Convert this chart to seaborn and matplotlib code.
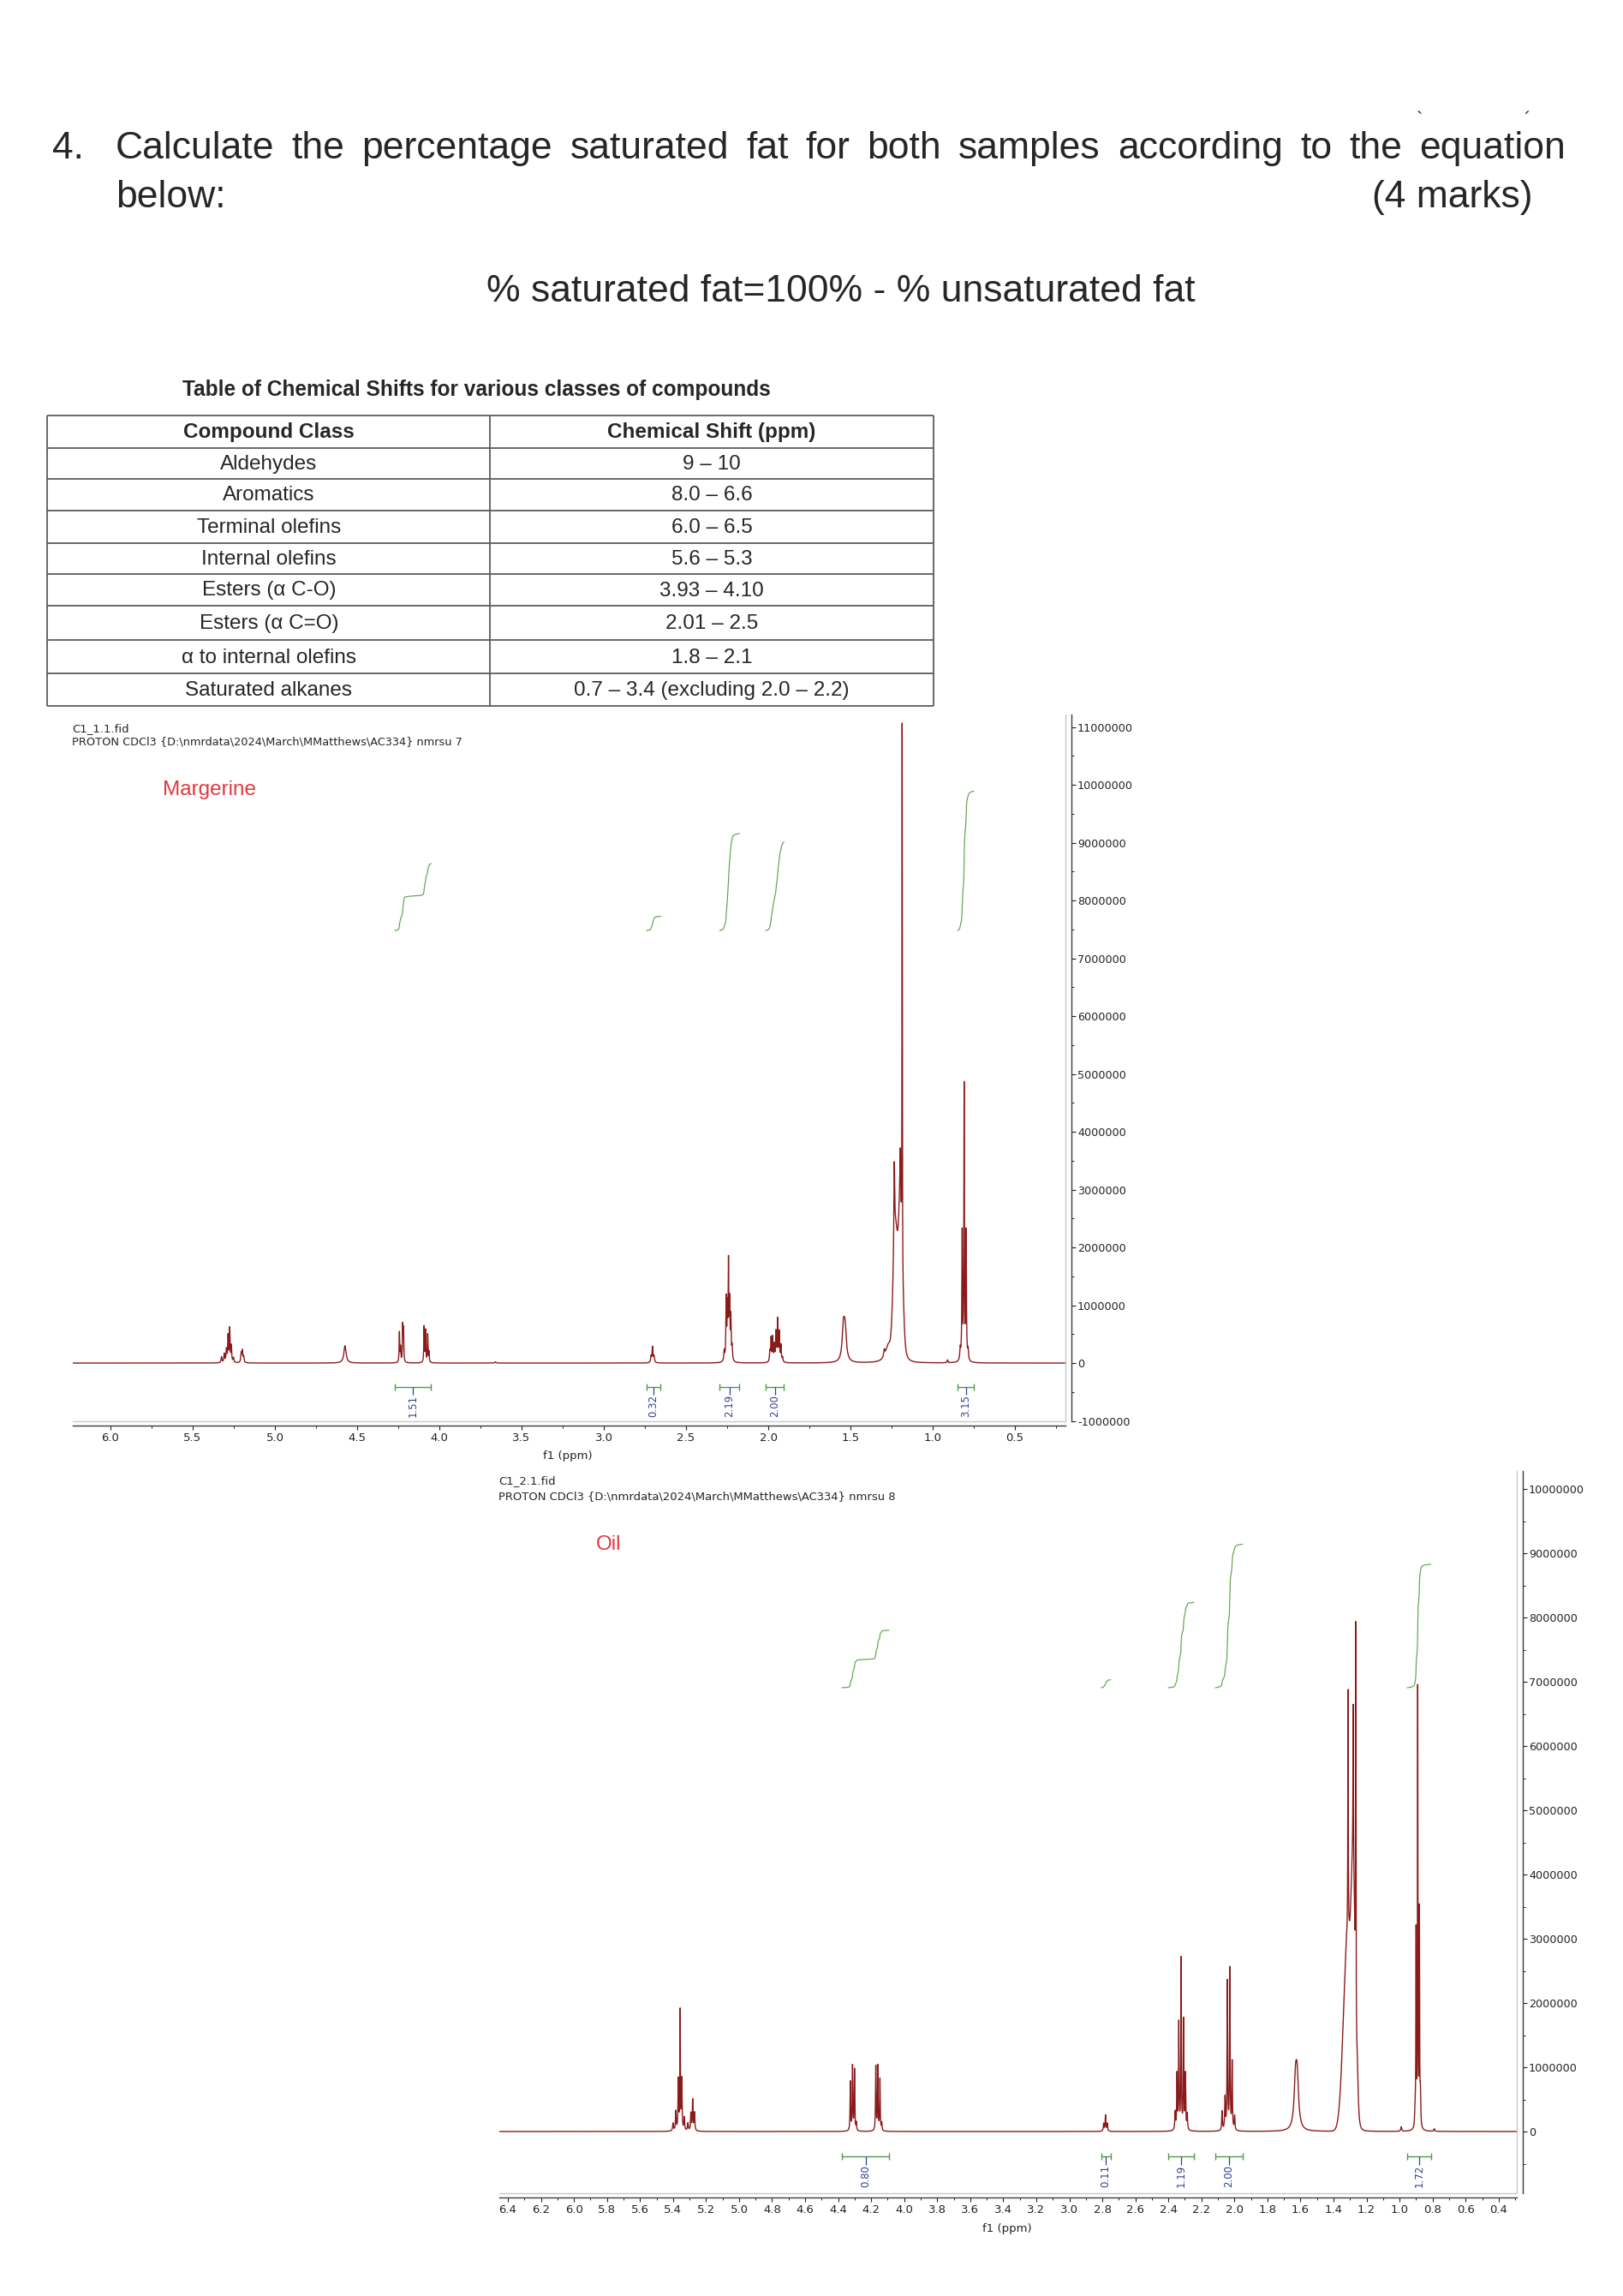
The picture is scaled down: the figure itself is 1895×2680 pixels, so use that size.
import numpy as np
import matplotlib
matplotlib.use("Agg")
import matplotlib.pyplot as plt
import seaborn as sns
from matplotlib.ticker import MultipleLocator, FuncFormatter

# ---------------- page text ----------------
question_words = ["Calculate", "the", "percentage", "saturated", "fat", "for", "both",
                  "samples", "according", "to", "the", "equation"]
equation_text = "% saturated fat=100% - % unsaturated fat"
table_title = "Table of Chemical Shifts for various classes of compounds"
table_header = ["Compound Class", "Chemical Shift (ppm)"]
compound_classes = ["Aldehydes", "Aromatics", "Terminal olefins", "Internal olefins",
                    "Esters (\u03b1 C-O)", "Esters (\u03b1 C=O)", "\u03b1 to internal olefins",
                    "Saturated alkanes"]
shift_ranges = ["9 \u2013 10", "8.0 \u2013 6.6", "6.0 \u2013 6.5", "5.6 \u2013 5.3",
                "3.93 \u2013 4.10", "2.01 \u2013 2.5", "1.8 \u2013 2.1",
                "0.7 \u2013 3.4 (excluding 2.0 \u2013 2.2)"]

# ---------------- margarine spectrum (heights in 1e6) ----------------
marg_line_ppm = [5.325, 5.308, 5.295, 5.285, 5.275, 5.265, 5.252, 5.205, 5.198, 5.190,
                 4.574, 4.243, 4.236, 4.223, 4.218, 4.093, 4.084, 4.071, 4.063, 3.660,
                 2.713, 2.704, 2.695, 2.268, 2.256, 2.249, 2.242, 2.235, 2.228, 2.220,
                 1.990, 1.983, 1.973, 1.963, 1.953, 1.943, 1.933, 1.923, 1.913,
                 1.543, 1.533, 1.295, 1.270, 1.234, 1.197, 1.186, 1.178,
                 0.910, 0.833, 0.821, 0.809, 0.797, 0.785]
marg_line_h = [0.10, 0.15, 0.22, 0.45, 0.58, 0.28, 0.08, 0.16, 0.20, 0.10,
               0.30, 0.52, 0.25, 0.62, 0.55, 0.62, 0.55, 0.48, 0.18, 0.02,
               0.11, 0.27, 0.11, 0.18, 1.05, 0.85, 1.65, 0.95, 0.72, 0.25,
               0.18, 0.40, 0.42, 0.28, 0.50, 0.72, 0.50, 0.28, 0.08,
               0.55, 0.50, 0.12, 0.30, 1.50, 1.00, 9.50, 0.60,
               0.05, 0.20, 2.20, 4.72, 2.20, 0.18]
marg_line_w = [0.003, 0.003, 0.003, 0.0025, 0.0025, 0.0025, 0.003, 0.003, 0.003, 0.003,
               0.008, 0.002, 0.002, 0.002, 0.002, 0.002, 0.002, 0.002, 0.002, 0.004,
               0.003, 0.003, 0.003, 0.003, 0.0022, 0.0022, 0.0022, 0.0022, 0.0022, 0.003,
               0.003, 0.0025, 0.0025, 0.0025, 0.0025, 0.0025, 0.0025, 0.0025, 0.003,
               0.009, 0.009, 0.004, 0.020, 0.003, 0.003, 0.0012, 0.010,
               0.003, 0.003, 0.0022, 0.0018, 0.0022, 0.003]
marg_hump_ppm = [1.226, 1.198]
marg_hump_h = [2.2, 2.2]
marg_hump_s = [0.014, 0.010]
marg_int_start = [4.27, 2.74, 2.295, 2.016, 0.849]
marg_int_end = [4.05, 2.654, 2.175, 1.904, 0.750]
marg_int_value = [1.51, 0.32, 2.19, 2.00, 3.15]

# ---------------- oil spectrum (heights in 1e6) ----------------
oil_line_ppm = [5.400, 5.383, 5.368, 5.357, 5.347, 5.332, 5.310, 5.292, 5.281, 5.270,
                4.326, 4.313, 4.301, 4.290, 4.172, 4.160, 4.147, 4.136,
                2.792, 2.781, 2.770, 2.359, 2.348, 2.337, 2.323, 2.308, 2.297, 2.286,
                2.075, 2.057, 2.043, 2.028, 2.014, 1.999, 1.630, 1.620,
                1.312, 1.281, 1.265, 1.255,
                0.990, 0.906, 0.900, 0.890, 0.880, 0.874, 0.790]
oil_line_h = [0.12, 0.30, 0.78, 1.85, 0.78, 0.20, 0.12, 0.27, 0.48, 0.28,
              0.76, 1.00, 0.95, 0.12, 1.00, 1.00, 0.80, 0.12,
              0.12, 0.25, 0.12, 0.28, 0.85, 1.65, 2.65, 1.70, 0.85, 0.25,
              0.30, 0.50, 2.30, 2.50, 1.05, 0.22, 0.70, 0.70,
              3.80, 2.40, 6.00, 0.50,
              0.07, 0.30, 3.00, 6.80, 3.30, 0.50, 0.04]
oil_line_w = [0.003, 0.0025, 0.0022, 0.0018, 0.0022, 0.0025, 0.003, 0.0025, 0.0025, 0.0025,
              0.002, 0.002, 0.002, 0.002, 0.002, 0.002, 0.002, 0.002,
              0.0025, 0.0025, 0.0025, 0.0025, 0.002, 0.002, 0.0018, 0.002, 0.002, 0.0025,
              0.0025, 0.0025, 0.002, 0.002, 0.002, 0.0025, 0.010, 0.010,
              0.0015, 0.0015, 0.0012, 0.006,
              0.003, 0.0025, 0.0015, 0.0015, 0.0015, 0.0025, 0.003]
oil_hump_ppm = [1.315, 1.280]
oil_hump_h = [3.0, 3.0]
oil_hump_s = [0.025, 0.012]
oil_int_start = [4.377, 2.807, 2.401, 2.116, 0.954]
oil_int_end = [4.092, 2.750, 2.245, 1.950, 0.810]
oil_int_value = [0.80, 0.11, 1.19, 2.00, 1.72]

W, H = 1895, 2680
SPEC_RED = "#8b1a1a"
INT_GREEN = "#5ea34e"
BRACKET_GREEN = "#4e9a4e"
LABEL_BLUE = "#34408f"
PAGE_FONT = "Liberation Sans"

sns.set_theme(style="ticks")
plt.rcParams["font.family"] = ["DejaVu Sans"]

fig = plt.figure(figsize=(W / 100, H / 100), dpi=100)
page = fig.add_axes([0, 0, 1, 1])
page.set_xlim(0, W)
page.set_ylim(H, 0)
page.axis("off")
renderer = fig.canvas.get_renderer()


def fit_width(t, width):
    w = t.get_window_extent(renderer).width
    t.set_fontsize(t.get_fontsize() * width / w)


# question line, justified
page.text(61, 185, "4.", fontsize=32, family=PAGE_FONT, va="baseline")
word_texts = [page.text(0, 185, w, fontsize=32, family=PAGE_FONT, va="baseline")
              for w in question_words]
widths = [t.get_window_extent(renderer).width for t in word_texts]
gap = (1828 - 135 - sum(widths)) / (len(question_words) - 1)
x = 135
for t, w in zip(word_texts, widths):
    t.set_x(x)
    x += w + gap
page.text(135, 242, "below:", fontsize=32, family=PAGE_FONT, va="baseline")
page.text(1790, 242, "(4 marks)", fontsize=32, family=PAGE_FONT, va="baseline", ha="right")
page.text(1658, 146, "`", fontsize=16, family=PAGE_FONT, ha="center", color="#333333")
page.text(1783, 146, "\u00b4", fontsize=16, family=PAGE_FONT, ha="center", color="#333333")

eq = page.text(982, 352, equation_text, fontsize=32, family=PAGE_FONT, va="baseline", ha="center")
fit_width(eq, 829)

# table
tt = page.text(556, 455, table_title, fontsize=17.5, family=PAGE_FONT, weight="bold",
               ha="center", va="center")
fit_width(tt, 688)
row_lines = [485, 523, 559, 596, 634, 670, 707, 747, 786, 824]
page.hlines(row_lines, 55, 1090, color="#5c5c5c", lw=1.3)
page.vlines([55, 572, 1090], 485, 824, color="#5c5c5c", lw=1.3)
col_x = [314, 831]
for j, s in enumerate(table_header):
    page.text(col_x[j], (row_lines[0] + row_lines[1]) / 2 + 1, s, fontsize=17.5,
              family=PAGE_FONT, weight="bold", ha="center", va="center")
for i, (c, s) in enumerate(zip(compound_classes, shift_ranges)):
    yc = (row_lines[i + 1] + row_lines[i + 2]) / 2 + 1
    page.text(col_x[0], yc, c, fontsize=17.5, family=PAGE_FONT, ha="center", va="center")
    page.text(col_x[1], yc, s, fontsize=17.5, family=PAGE_FONT, ha="center", va="center")


def build_spectrum(grid, lp, lh, lw, hp, hh, hs):
    y = np.zeros_like(grid)
    for p, h, w in zip(lp, lh, lw):
        y += h * w ** 2 / ((grid - p) ** 2 + w ** 2)
    for p, h, s in zip(hp, hh, hs):
        y += h * np.exp(-0.5 * ((grid - p) / s) ** 2)
    return y * 1e6


def draw_spectrum(rect, xlim, ylim, major, minor, lines, humps, regions,
                  int_base, int_scale, bracket_y, cap, label_top):
    l, t, r, b = rect
    ax = fig.add_axes([l / W, 1 - b / H, (r - l) / W, (b - t) / H])
    ax.patch.set_alpha(0)
    grid = np.arange(xlim[0], xlim[1], -0.0002)
    grid = np.sort(np.concatenate([grid, lines[0]]))[::-1]
    spec = build_spectrum(grid, *lines, *humps)
    sns.lineplot(x=grid, y=spec, ax=ax, color=SPEC_RED, linewidth=1.0,
                 estimator=None, sort=False)

    starts, ends, values = regions
    for a, e, v in zip(starts, ends, values):
        m = (grid <= a) & (grid >= e)
        cum = np.cumsum(spec[m])
        frac = cum / cum[-1]
        ax.plot(grid[m], int_base + frac * v * int_scale, color=INT_GREEN, lw=0.85)
        ax.hlines(bracket_y, a, e, color=BRACKET_GREEN, lw=1.0)
        ax.vlines([a, e], bracket_y - cap, bracket_y + cap, color=BRACKET_GREEN, lw=1.0)
        c = (a + e) / 2
        ax.vlines(c, label_top, bracket_y, color=LABEL_BLUE, lw=0.9)
        ax.text(c, label_top, f"{v:.2f}", rotation=90, ha="center", va="top",
                fontsize=8.5, color=LABEL_BLUE)

    ax.set_xlim(*xlim)
    ax.set_ylim(*ylim)
    ax.set_xlabel("")
    ax.set_ylabel("")
    ax.spines["left"].set_visible(False)
    ax.spines["top"].set_visible(False)
    ax.spines["right"].set_position(("outward", 5))
    ax.spines["bottom"].set_position(("outward", 3.5))
    for s in ("right", "bottom"):
        ax.spines[s].set_color("#3c3c3c")
        ax.spines[s].set_linewidth(1.0)
    ax.plot([0, 1, 1], [0, 0, 1], transform=ax.transAxes, color="#c8c8c8", lw=1.0,
            clip_on=False)
    ax.yaxis.tick_right()
    ax.xaxis.set_major_locator(MultipleLocator(major))
    ax.xaxis.set_minor_locator(MultipleLocator(minor))
    ax.xaxis.set_major_formatter(FuncFormatter(lambda v, p: f"{v:.1f}"))
    ax.yaxis.set_major_locator(MultipleLocator(1e6))
    ax.yaxis.set_minor_locator(MultipleLocator(5e5))
    ax.yaxis.set_major_formatter(FuncFormatter(lambda v, p: f"{int(round(v))}"))
    ax.tick_params(axis="x", which="major", length=3.6, width=0.8, pad=2,
                   labelsize=9.5, colors="#222222")
    ax.tick_params(axis="x", which="minor", length=2.2, width=0.7, colors="#222222")
    ax.tick_params(axis="y", which="major", length=3.6, width=0.8, pad=1.5,
                   labelsize=9.2, colors="#222222")
    ax.tick_params(axis="y", which="minor", length=2.2, width=0.7, colors="#222222")
    return ax


px1 = 1 / 67.5
draw_spectrum((85, 834, 1244, 1659), (6.229, 0.193), (-1.007e6, 11.215e6), 0.5, 0.25,
              (marg_line_ppm, marg_line_h, marg_line_w),
              (marg_hump_ppm, marg_hump_h, marg_hump_s),
              (marg_int_start, marg_int_end, marg_int_value),
              7.48e6, 0.765e6, -28 * px1 * 1e6, 4 * px1 * 1e6, -37 * px1 * 1e6)

px2 = 1 / 75
draw_spectrum((583, 1717, 1771, 2560), (6.452, 0.290), (-0.96e6, 10.28e6), 0.2, 0.1,
              (oil_line_ppm, oil_line_h, oil_line_w),
              (oil_hump_ppm, oil_hump_h, oil_hump_s),
              (oil_int_start, oil_int_end, oil_int_value),
              6.907e6, 1.117e6, -29 * px2 * 1e6, 4 * px2 * 1e6, -39 * px2 * 1e6)

# spectrum headers
page.text(84, 851, "C1_1.1.fid", fontsize=9.5, va="center")
p1 = page.text(84, 866, r"PROTON CDCl3 {D:\nmrdata\2024\March\MMatthews\AC334} nmrsu 7",
               fontsize=9, va="center")
fit_width(p1, 457)
page.text(190, 922, "Margerine", fontsize=17.5, family=PAGE_FONT, color="#e0393e", va="center")
page.text(663, 1699, "f1 (ppm)", fontsize=9.5, ha="center", va="center", color="#222222")

page.text(582, 1729, "C1_2.1.fid", fontsize=9.5, va="center")
p2 = page.text(582, 1747, r"PROTON CDCl3 {D:\nmrdata\2024\March\MMatthews\AC334} nmrsu 8",
               fontsize=9, va="center")
fit_width(p2, 465)
page.text(696, 1803, "Oil", fontsize=17.5, family=PAGE_FONT, color="#e0393e", va="center")
page.text(1176, 2602, "f1 (ppm)", fontsize=9.5, ha="center", va="center", color="#222222")

fig.savefig("out.png", dpi=100, facecolor="white")
